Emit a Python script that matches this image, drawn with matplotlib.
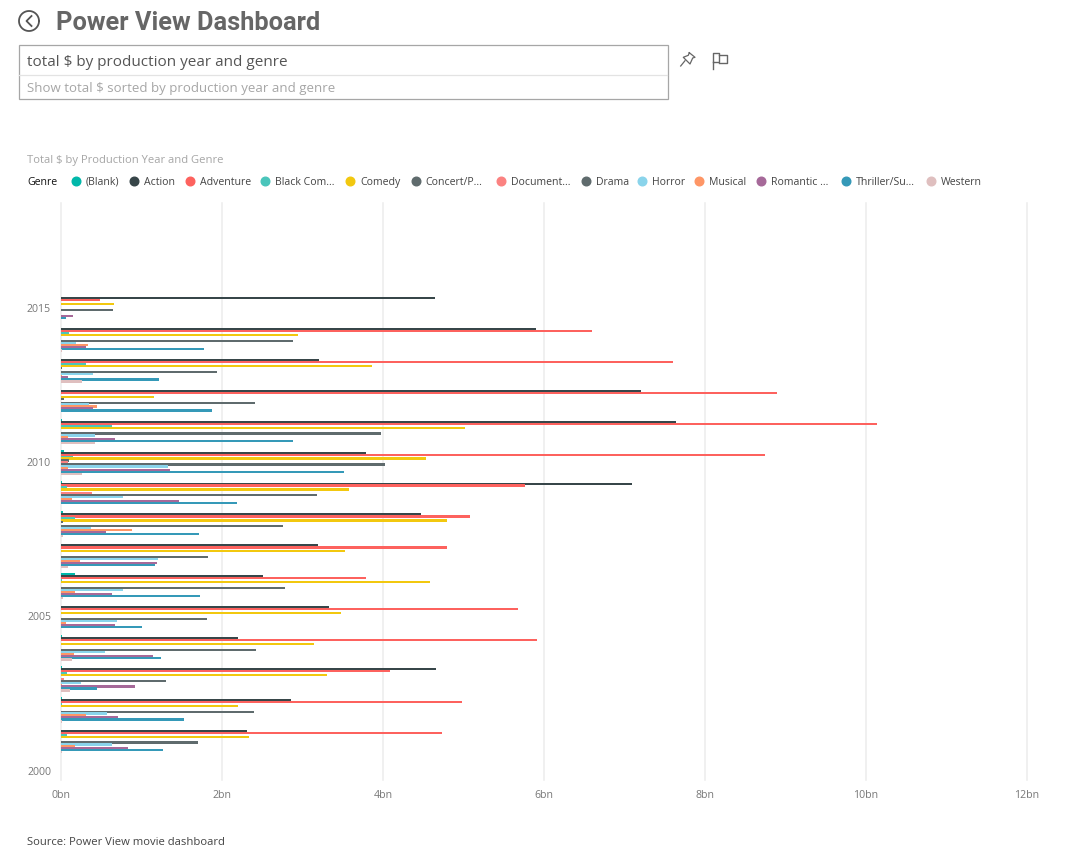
import matplotlib
matplotlib.use("Agg")
import matplotlib.pyplot as plt
from matplotlib.lines import Line2D
from matplotlib.patches import Rectangle
import numpy as np

W, H = 1076, 859
plt.rcParams['font.family'] = ['Open Sans', 'DejaVu Sans']

years = [2015, 2014, 2013, 2012, 2011, 2010, 2009, 2008, 2007, 2006, 2005, 2004, 2003, 2002, 2001]
genres = ['(Blank)', 'Action', 'Adventure', 'Black Com...', 'Comedy', 'Concert/P...', 'Document...',
          'Drama', 'Horror', 'Musical', 'Romantic ...', 'Thriller/Su...', 'Western']
colors = ['#01B8AA', '#374649', '#FD625E', '#4AC5BB', '#F2C80F', '#5F6B6D', '#FB8281',
          '#5F6B6D', '#8AD4EB', '#FE9666', '#A66999', '#3599B8', '#DFBFBF']

blank =     [0, 0, 0, 0, .012, .037, .012, .025, 0, .174, 0, .012, .012, .012, 0]
action =    [4.64, 5.90, 3.205, 7.20, 7.64, 3.79, 7.09, 4.47, 3.19, 2.51, 3.33, 2.20, 4.66, 2.857, 2.31]
adventure = [.485, 6.60, 7.60, 8.90, 10.14, 8.75, 5.76, 5.08, 4.79, 3.79, 5.68, 5.91, 4.09, 4.98, 4.73]
blackcom =  [0, .10, .31, 0, .634, .15, .075, .174, 0, .012, 0, 0, .075, .012, .075]
comedy =    [.66, 2.94, 3.86, 1.155, 5.02, 4.53, 3.58, 4.79, 3.53, 4.58, 3.48, 3.14, 3.31, 2.20, 2.335]
concert =   [0, 0, .012, .037, 0, .10, 0, .025, 0, 0, 0, 0, 0, 0, 0]
document =  [0, 0, 0, 0, 0, .087, .385, 0, 0, 0, 0, 0, .037, 0, 0]
drama =     [.645, 2.88, 1.94, 2.41, 3.98, 4.03, 3.18, 2.76, 1.826, 2.78, 1.814, 2.42, 1.304, 2.40, 1.70]
horror =    [0, .186, .40, .348, .42, 1.33, .77, .373, 1.205, .77, .696, .547, .248, .57, .634]
musical =   [0, .335, .012, .447, .087, .087, .137, .882, .236, .174, .062, .16, .012, .31, .174]
romantic =  [.15, .31, .087, .40, .67, 1.354, 1.466, .56, 1.19, .634, .67, 1.143, .92, .708, .83]
thriller =  [.06, 1.776, 1.217, 1.876, 2.88, 3.51, 2.186, 1.714, 1.168, 1.727, 1.006, 1.242, .447, 1.528, 1.267]
western =   [0, .012, .26, 0, .42, .26, 0, .025, .087, .025, 0, .137, .11, .012, .012]
series = [blank, action, adventure, blackcom, comedy, concert, document, drama, horror,
          musical, romantic, thriller, western]

year_ticks = [2000, 2005, 2010, 2015]
value_ticks = [0, 2, 4, 6, 8, 10, 12]
value_labels = ['0bn', '2bn', '4bn', '6bn', '8bn', '10bn', '12bn']

fig = plt.figure(figsize=(W / 100, H / 100), dpi=100, facecolor='white')
def fx(p): return p / W
def fy(p): return 1 - p / H

# chart axes
L, R, T, B = 61, 1027, 203, 780
ax = fig.add_axes([fx(L), fy(B), fx(R - L), (B - T) / H])
ax.set_xlim(0, 12)
px_year = 30.9
ax.set_ylim(2000 - (B - 771) / px_year, 2000 + (771 - T) / px_year)
slot = 1.95 / px_year
nudge = 0.5 / px_year
yrs = np.array(years, dtype=float)
for i, (vals, c) in enumerate(zip(series, colors)):
    ax.barh(yrs - (i - 6) * slot - nudge, vals, height=slot * 1.15, color=c, linewidth=0, zorder=3)
ax.set_xticks(value_ticks, value_labels)
ax.set_yticks(year_ticks, [str(y) for y in year_ticks])
ax.tick_params(length=0, labelsize=7.6, labelcolor='#777777')
ax.tick_params(axis='x', pad=7)
ax.tick_params(axis='y', pad=7.2)
ax.grid(axis='x', color='#EEEEEE', linewidth=1.2, zorder=0)
ax.set_axisbelow(True)
for s in ax.spines.values():
    s.set_visible(False)
for line in ax.get_xgridlines():
    line.set_clip_on(False)

# header
def fline(xs, ys, **kw):
    fig.add_artist(Line2D([fx(x) for x in xs], [fy(y) for y in ys], **kw))
theta = np.linspace(0, 2 * np.pi, 80)
fline(29 + 10 * np.cos(theta), 21 + 10 * np.sin(theta), color='#555555', lw=1.3)
fline([31.5, 26.5, 31.5], [16, 21, 26], color='#555555', lw=1.3)
fig.text(fx(56), fy(30), 'Power View Dashboard', fontsize=18.3, fontweight='bold', family='Roboto',
         color='#666666', va='baseline', ha='left')

fig.add_artist(Rectangle((fx(18.5), fy(98.5)), fx(649), 54 / H, fill=False, ec='#A6A6A6', lw=0.9))
fline([19, 667], [74.5, 74.5], color='#E3E3E3', lw=0.9)
fig.text(fx(27), fy(66), 'total $ by production year and genre', fontsize=11, color='#555555', va='baseline')
fig.text(fx(27), fy(92), 'Show total $ sorted by production year and genre', fontsize=9.5, color='#A6A6A6', va='baseline')

# pin icon
fline([689.3, 695, 692.7, 690, 683.3, 688.3, 689.3], [52.7, 57.3, 58, 64, 57.3, 55.3, 52.7], color='#666666', lw=0.9)
fline([685, 680.7], [60.7, 66], color='#666666', lw=0.9)
# flag icon
fline([712.7, 712.7, 719.3, 719.3, 712.7], [69.3, 52.7, 52.7, 62, 62], color='#666666', lw=1)
fline([719.3, 726.7, 726.7, 719.3], [54.7, 54.7, 62.7, 62.7], color='#666666', lw=1)

# chart title + legend
fig.text(fx(27), fy(162.5), 'Total $ by Production Year and Genre', fontsize=8.1, color='#A6A6A6', va='baseline')
fig.text(fx(27), fy(185), 'Genre', fontsize=7.6, color='#111111', va='baseline')
dot_x = [76, 134, 190, 265, 350, 415.5, 501, 586, 642, 699, 761, 846, 931]
for dx, g, c in zip(dot_x, genres, colors):
    fig.add_artist(Line2D([fx(dx)], [fy(181)], marker='o', ms=6.2, mfc=c, mec=c, lw=0))
    fig.text(fx(dx + 10), fy(185), g, fontsize=7.6, color='#444444', va='baseline')

fig.text(fx(27), fy(845), 'Source: Power View movie dashboard', fontsize=8.1, color='#444444', va='baseline')

fig.savefig('out.png', dpi=100)
